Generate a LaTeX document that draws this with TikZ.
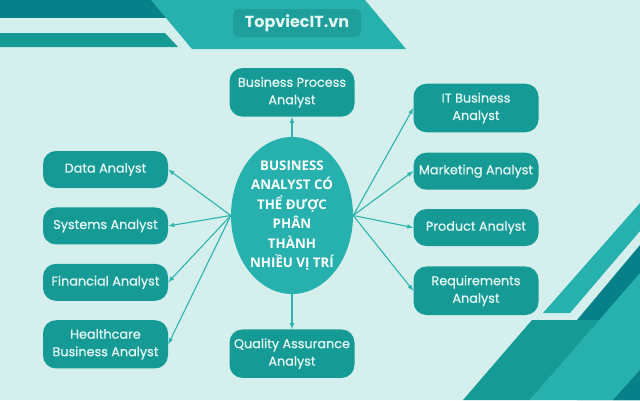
\documentclass[tikz,border=0pt]{standalone}
\usepackage{fontspec}
\setmainfont{Poppins}
\newfontfamily\rolefont{Poppins}[FakeBold=0.8]
\newfontfamily\viet{Open Sans}
\usepackage{tikz}
\usetikzlibrary{arrows, shapes, positioning}

\definecolor{bgmint}{HTML}{D5F0EC}
\definecolor{tealbox}{HTML}{169A96}
\definecolor{tealmid}{HTML}{27B1AE}
\definecolor{tealdark}{HTML}{08808A}
\definecolor{tealbrand}{HTML}{1E9F9B}
\definecolor{boxtext}{HTML}{E4F6F2}
\definecolor{arrowteal}{HTML}{2DB4AF}

\begin{document}
\begin{tikzpicture}[x=1pt, y=-1pt,
    role/.style={rectangle, rounded corners=13pt, fill=tealbox, text=boxtext, minimum width=125pt, minimum height=37pt, align=center, inner ysep=9pt, font=\rolefont\fontsize{12.8}{17.5}\selectfont},
    hub/.style={ellipse, fill=tealmid, text=white, minimum width=122pt, minimum height=157pt, inner xsep=-8pt, inner ysep=0pt, align=center, font=\viet\bfseries\fontsize{13.3}{19.5}\selectfont},
    brandbox/.style={rectangle, rounded corners=5pt, fill=tealbrand, text=boxtext, minimum width=128pt, minimum height=28pt, font=\bfseries\fontsize{16}{18}\selectfont},
    link/.style={-latex, arrowteal, line width=1.1pt}]
    \useasboundingbox (0,0) rectangle (640,400);
    \fill[bgmint] (0,0) rectangle (640,400);

    % header bands
    \fill[tealdark] (0,0) rectangle (170,18);
    \fill[tealbox] (0,33) -- (165,33) -- (178,47) -- (0,47) -- cycle;
    \fill[tealmid] (151,0) -- (365,0) -- (406,49) -- (192,49) -- cycle;
    \node[brandbox] (brand) at (297,23) {TopviecIT.vn};

    % corner bands
    \fill[tealdark] (577,320) -- (640,245) -- (640,400) -- (577,400) -- cycle;
    \fill[tealmid] (543,313) -- (640,203) -- (640,231) -- (570,313) -- cycle;
    \fill[tealbox] (463,400) -- (532,320) -- (600,320) -- (530,400) -- cycle;
    \fill[tealmid] (530,400) -- (640,273) -- (640,400) -- cycle;
    \fill[tealdark] (613,400) -- (640,370) -- (640,400) -- cycle;

    \node[hub] (ba) at (292,215.5) {BUSINESS\\ANALYST CÓ\\THỂ ĐƯỢC\\PHÂN\\THÀNH\\NHIỀU VỊ TRÍ};

    \node[role] (bpa) [above = 20pt of ba] {Business Process\\Analyst};
    \node[role] (qa) [below = 35pt of ba] {Quality Assurance\\Analyst};

    \node[role] (data) at (105.5,169.5) {Data Analyst};
    \node[role] (sys) [below = 19pt of data] {Systems Analyst};
    \node[role] (fin) [below = 19pt of sys] {Financial Analyst};
    \node[role] (health) [below = 19pt of fin] {Healthcare\\Business Analyst};

    \node[role] (itba) at (476,108) {IT Business\\Analyst};
    \node[role] (mkt) [below = 20pt of itba] {Marketing Analyst};
    \node[role] (prod) [below = 19pt of mkt] {Product Analyst};
    \node[role] (req) [below = 20pt of prod] {Requirements\\Analyst};

    \path[link] (ba) edge (bpa);
    \path[link] (ba) edge (qa);
    \path[link] (ba.west) edge (data.east);
    \path[link] (ba.west) edge (sys.east);
    \path[link] (ba.west) edge (fin.east);
    \path[link] (ba.west) edge (health.east);
    \path[link] (ba.east) edge (itba.west);
    \path[link] (ba.east) edge (mkt.west);
    \path[link] (ba.east) edge (prod.west);
    \path[link] (ba.east) edge (req.west);
\end{tikzpicture}
\end{document}
